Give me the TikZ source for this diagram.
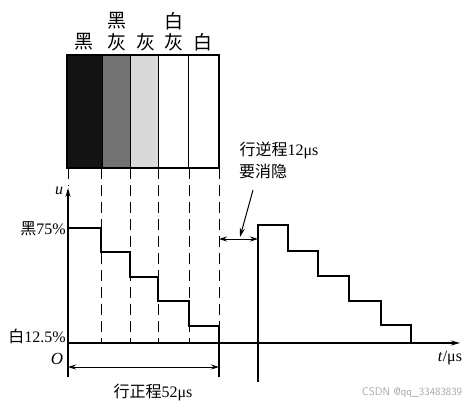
\documentclass[tikz,border=0pt]{standalone}
\usepackage{fontspec}
\setmainfont{Liberation Serif}
\newfontfamily\cjk{Noto Sans CJK SC}
\usetikzlibrary{arrows.meta}
\begin{document}
\begin{tikzpicture}[x=1pt,y=-1pt,
  toplbl/.style={inner sep=0pt,font=\cjk\fontsize{19}{19}\selectfont},
  lbl/.style={inner sep=0pt,font=\fontsize{16}{16}\selectfont},
  lvl/.style={line width=2.6pt,line join=miter},
  axisline/.style={line width=1.2pt},
  dashline/.style={line width=1pt,dash pattern=on 11pt off 6pt},
  tip/.style={-{Stealth[length=9pt,width=5pt]}},
  dtip/.style={{Stealth[length=8pt,width=5pt]}-{Stealth[length=8pt,width=5pt]}}]
\useasboundingbox[fill=white] (0,0) rectangle (474,405);
% bars
\fill[black!92] (67,55) rectangle (102,168);
\fill[black!55] (102,55) rectangle (130,168);
\fill[black!15] (130,55) rectangle (158,168);
\draw[line width=1.3pt] (67,55) rectangle (219,168);
\foreach \x in {102,130,158,188} \draw[line width=1pt] (\x,55) -- (\x,168);
% top labels
\node[toplbl] (l1) at (84,42) {黑};
\node[toplbl] (l2a) at (117,21) {黑};
\node[toplbl] (l2b) at (117,42) {灰};
\node[toplbl] (l3) at (146,42) {灰};
\node[toplbl] (l4a) at (174,21) {白};
\node[toplbl] (l4b) at (174,42) {灰};
\node[toplbl] (l5) at (203,42) {白};
% dashed lines
\draw[dashline] (68,168) -- (68,186);
\foreach \x in {101,130,158,189} \draw[dashline] (\x,168) -- (\x,343);
\draw[dashline] (219,168) -- (219,326);
% axes
\coordinate (o) at (68,343);
\coordinate (utop) at (68,188);
\coordinate (ubot) at (68,377);
\coordinate (tend) at (460,343);
\draw[axisline,tip] (ubot) -- (utop);
\draw[axisline,tip] (o) -- (tend);
\node[lbl,font=\itshape\fontsize{16}{16}\selectfont] (u) at (59,191) {u};
\node[lbl] (t) at (450,358) {\textit{t}/μs};
\node[lbl,font=\itshape\fontsize{17}{17}\selectfont] (O) at (57,359) {O};
\node[lbl,anchor=east] (b75) at (66,229) {{\cjk 黑}75\%};
\node[lbl,anchor=east] (w12) at (66,336) {{\cjk 白}12.5\%};
% first waveform
\draw[lvl] (68,228) -- (101,228) -- (101,252) -- (130,252) -- (130,277) -- (158,277) -- (158,301) -- (189,301) -- (189,326) -- (219,326) -- (219,343);
\draw[axisline] (219,343) -- (219,377);
% second waveform
\draw[lvl] (258,343) -- (258,225) -- (288,225) -- (288,251) -- (318,251) -- (318,276) -- (349,276) -- (349,301) -- (381,301) -- (381,325) -- (411,325) -- (411,343);
\draw[axisline] (258,343) -- (258,382);
% dimension arrows
\coordinate (a1) at (68,367);
\coordinate (a2) at (219,367);
\draw[line width=1pt,dtip] (a1) -- (a2);
\node[lbl] (fwd) at (153,392) {{\cjk 行正程}52μs};
\coordinate (r1) at (219,239);
\coordinate (r2) at (258,239);
\draw[line width=1pt,dtip] (r1) -- (r2);
\node[lbl] (ret1) at (279,150) {{\cjk 行逆程}12μs};
\node[lbl,font=\cjk\fontsize{16}{16}\selectfont] (ret2) at (263,171) {要消隐};
\coordinate (ld1) at (253,190);
\coordinate (ld2) at (240,237);
\draw[line width=1pt,tip] (ld1) -- (ld2);
\node[inner sep=0pt,text=black!35,font=\sffamily\fontsize{11}{11}\selectfont] (wm) at (412,393) {CSDN @qq\_33483839};
\end{tikzpicture}
\end{document}
